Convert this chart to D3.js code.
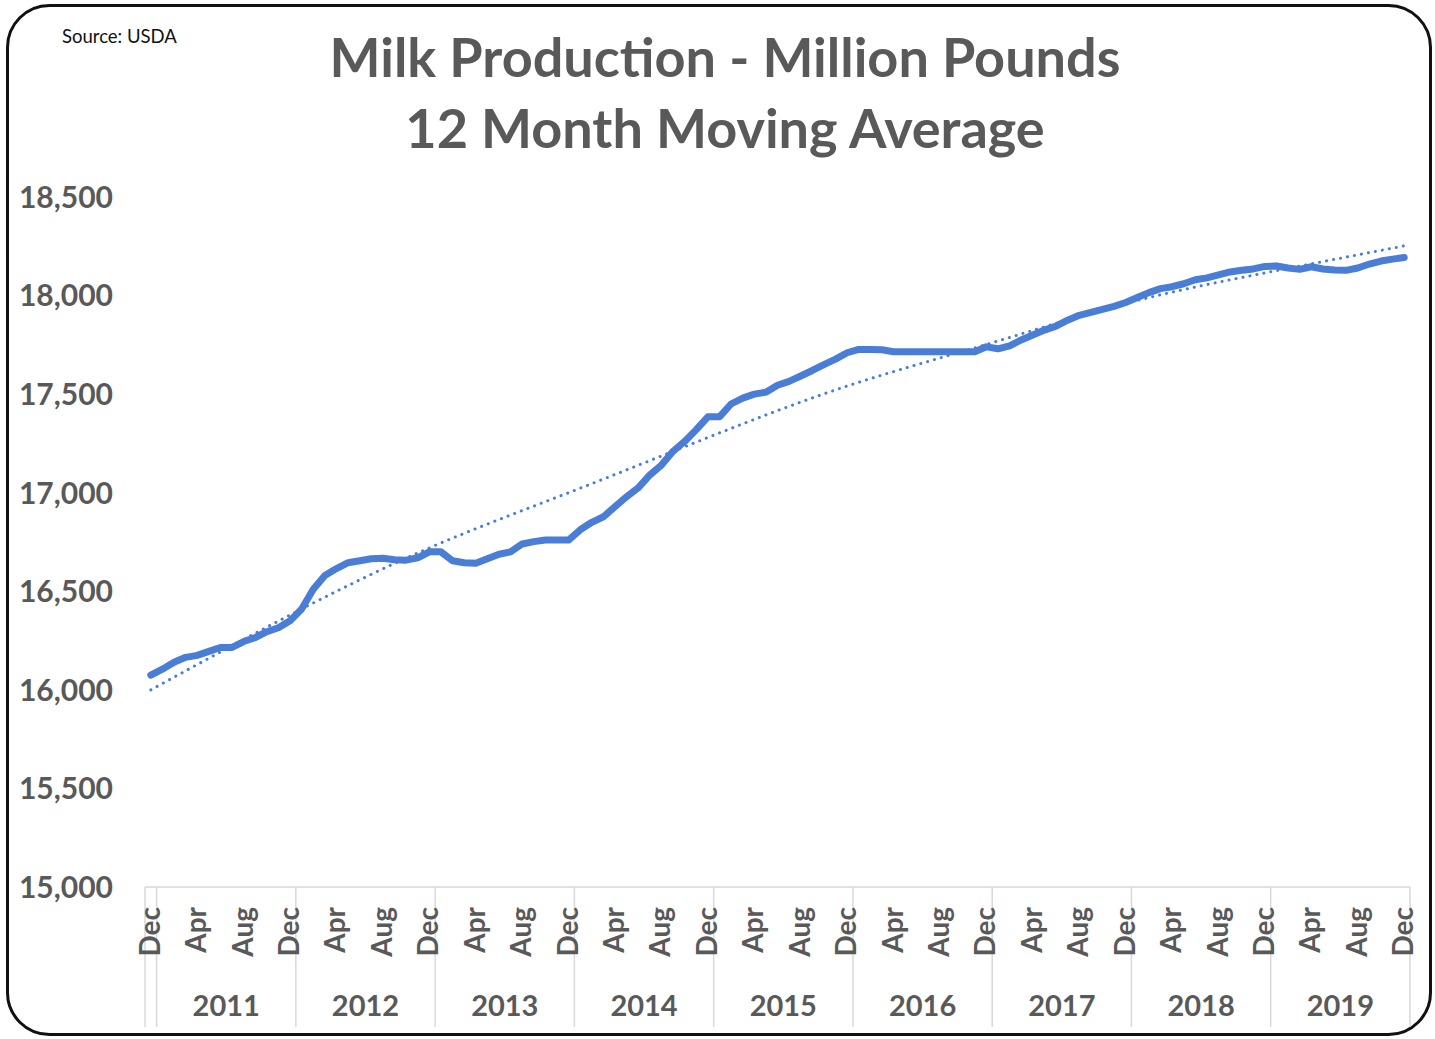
<!DOCTYPE html>
<html>
  <head>
    <meta charset="utf-8" />
    <title>Milk Production</title>
    <script src="https://d3js.org/d3.v7.min.js"></script>
    <style>
      body {
        margin: 0;
        background: #fff;
      }
      text {
        font-family: Lato, "Open Sans", sans-serif;
      }
    </style>
  </head>
  <body>
    <svg id="chart"></svg>

    <script>

      // Dec 2010 .. Dec 2019, 12 month moving average (million lbs)
      var months = ["Dec", "Jan", "Feb", "Mar", "Apr", "May", "Jun", "Jul", "Aug", "Sep", "Oct", "Nov"];
      var years = ["2010", "2011", "2012", "2013", "2014", "2015", "2016", "2017", "2018", "2019"];
      var production = [
        16075, 16105, 16140, 16165, 16175, 16195, 16215, 16215, 16245, 16265, 16295, 16315,
        16350, 16410, 16510, 16580, 16615, 16645, 16655, 16665, 16668, 16660, 16658, 16670,
        16700, 16700, 16655, 16645, 16642, 16665, 16688, 16700, 16740, 16752, 16760, 16760,
        16760, 16812, 16850, 16878, 16930, 16980, 17025, 17090, 17140, 17210, 17260, 17320,
        17385, 17385, 17450, 17480, 17500, 17510, 17545, 17565, 17592, 17620, 17650, 17678,
        17710, 17727, 17727, 17725, 17715, 17715, 17715, 17715, 17715, 17715, 17715, 17715,
        17740, 17730, 17745, 17775, 17800, 17825, 17845, 17875, 17900, 17915, 17930, 17945,
        17965, 17990, 18015, 18035, 18045, 18060, 18080, 18090, 18105, 18120, 18128, 18135,
        18148, 18150, 18140, 18133, 18146, 18135, 18130, 18128, 18140, 18160, 18175, 18185,
        18193
      ];
      // trendline as drawn, read at each Dec (Dec 2010 .. Dec 2019)
      var trendValues = [16000, 16380, 16720, 17000, 17280, 17541, 17752, 17960, 18115, 18252];
      var yTicks = [15000, 15500, 16000, 16500, 17000, 17500, 18000, 18500];

      var width = 1435;
      var height = 1039;
      var margin = { top: 197, right: 25, bottom: 152, left: 145 };

      var svg = d3.select("#chart")
        .attr("width", width)
        .attr("height", height);

      // frame
      svg.append("rect")
        .attr("x", 7.5)
        .attr("y", 5.5)
        .attr("width", 1423)
        .attr("height", 1029)
        .attr("rx", 42)
        .attr("fill", "#fff")
        .attr("stroke", "#111")
        .attr("stroke-width", 3);

      // each point gets month + year group
      var data = production.map(function(v, i) {
        var m = i % 12;
        var yr = years[Math.floor((i + 11) / 12)];
        return { key: i, month: months[m], year: yr, value: v };
      });

      var x = d3.scaleBand()
        .domain(data.map(function(d) { return d.key; }))
        .range([margin.left, width - margin.right]);

      var y = d3.scaleLinear()
        .domain([15000, 18500])
        .range([height - margin.bottom, margin.top]);

      var cx = function(d) { return x(d.key) + x.bandwidth() / 2; };

      // y axis labels
      svg.append("g")
        .selectAll("text")
        .data(yTicks)
        .enter()
          .append("text")
          .attr("x", 113)
          .attr("y", function(d) { return y(d); })
          .attr("dy", "0.36em")
          .attr("text-anchor", "end")
          .attr("fill", "#595959")
          .attr("font-size", 30)
          .attr("font-weight", "bold")
          .text(d3.format(","));

      // x axis line
      var axisY = y(15000);
      svg.append("line")
        .attr("x1", margin.left)
        .attr("x2", width - margin.right)
        .attr("y1", axisY)
        .attr("y2", axisY)
        .attr("stroke", "#d9d9d9")
        .attr("stroke-width", 1.5);

      // group separators
      var groupStarts = data.filter(function(d, i) { return i === 0 || d.month === "Jan"; });
      var sepX = groupStarts.map(function(d) { return x(d.key); });
      sepX.push(width - margin.right);

      svg.append("g")
        .selectAll("line")
        .data(sepX)
        .enter()
          .append("line")
          .attr("x1", function(d) { return d; })
          .attr("x2", function(d) { return d; })
          .attr("y1", axisY)
          .attr("y2", 1027)
          .attr("stroke", "#d9d9d9")
          .attr("stroke-width", 1.5);

      // month labels every 4 months
      svg.append("g")
        .selectAll("text")
        .data(data.filter(function(d, i) { return i % 4 === 0; }))
        .enter()
          .append("text")
          .attr("transform", function(d) {
            return "translate(" + (cx(d) + 9) + "," + 907 + ") rotate(-90)";
          })
          .attr("text-anchor", "end")
          .attr("fill", "#595959")
          .attr("font-size", 28)
          .attr("font-weight", "bold")
          .text(function(d) { return d.month; });

      // year labels (skip the one-month 2010 group)
      var yearGroups = d3.groups(data, function(d) { return d.year; })
        .filter(function(g) { return g[1].length > 1; });

      svg.append("g")
        .selectAll("text")
        .data(yearGroups)
        .enter()
          .append("text")
          .attr("x", function(g) {
            var a = x(g[1][0].key);
            var b = x(g[1][g[1].length - 1].key) + x.bandwidth();
            return (a + b) / 2;
          })
          .attr("y", 1016)
          .attr("text-anchor", "middle")
          .attr("fill", "#595959")
          .attr("font-size", 29)
          .attr("font-weight", "bold")
          .text(function(g) { return g[0]; });

      var line = d3.line()
        .x(cx)
        .y(function(d) { return y(d.value); });

      // trendline through the Dec points
      var decPoints = data.filter(function(d) { return d.month === "Dec"; });
      var trend = decPoints.map(function(d, i) {
        return { key: d.key, value: trendValues[i] };
      });

      svg.append("path")
        .datum(trend)
        .attr("d", line.curve(d3.curveNatural))
        .attr("fill", "none")
        .attr("stroke", "#4a7dd6")
        .attr("stroke-width", 3)
        .attr("stroke-linecap", "round")
        .attr("stroke-dasharray", "0.1,7");

      line.curve(d3.curveLinear);

      svg.append("path")
        .datum(data)
        .attr("d", line)
        .attr("fill", "none")
        .attr("stroke", "#4a7dd6")
        .attr("stroke-width", 7)
        .attr("stroke-linejoin", "round")
        .attr("stroke-linecap", "round");

      // titles
      svg.append("text")
        .attr("x", 62)
        .attr("y", 43)
        .attr("fill", "#111")
        .attr("font-size", 18.5)
        .text("Source: USDA");

      svg.append("text")
        .attr("x", 725)
        .attr("y", 77)
        .attr("text-anchor", "middle")
        .attr("fill", "#595959")
        .attr("font-size", 54)
        .attr("font-weight", "bold")
        .text("Milk Production - Million Pounds");

      svg.append("text")
        .attr("x", 725)
        .attr("y", 148)
        .attr("text-anchor", "middle")
        .attr("fill", "#595959")
        .attr("font-size", 54)
        .attr("font-weight", "bold")
        .text("12 Month Moving Average");

    </script>
  </body>
</html>
